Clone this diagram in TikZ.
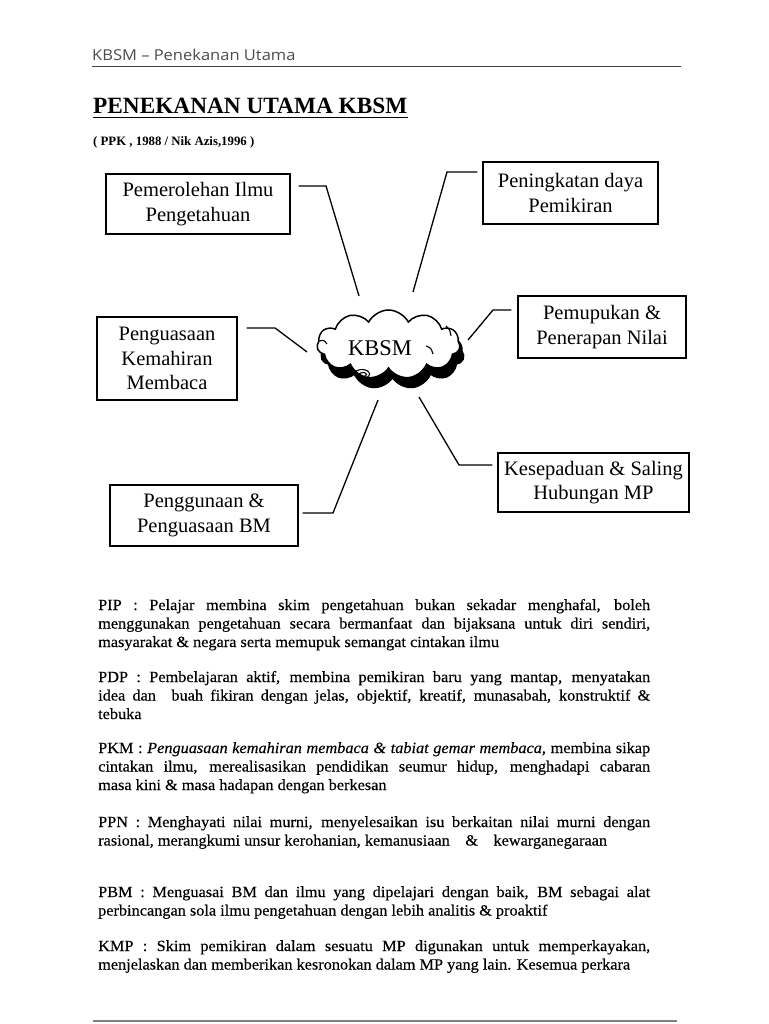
\documentclass[tikz,border=0pt]{standalone}
\usepackage{fontspec}
\setmainfont{Liberation Serif}
\newfontfamily\hdrfont[FakeStretch=1.1]{Open Sans}
\newfontfamily\parafont[FakeStretch=1.05,FakeBold=0.3]{Liberation Serif}
\usetikzlibrary{shapes.symbols,calc}
\begin{document}
\begin{tikzpicture}[x=1pt,y=-1pt,
  box/.style={draw,line width=1.4pt,inner sep=0pt,align=center,font=\fontsize{20.5}{24.5}\selectfont},
  conn/.style={line width=1.3pt},
  kcloud/.style={cloud,cloud puffs=11,cloud puff arc=125,aspect=2.15,minimum width=143pt,minimum height=69pt,inner sep=0pt},
  para/.style={anchor=base west,text width=552pt,align=justify,inner sep=0pt,font=\parafont\fontsize{15.5}{18.5}\selectfont}]
\useasboundingbox (0,0) rectangle (768,1024);
\fill[white] (0,0) rectangle (768,1024);
% header
\node[anchor=base west,inner sep=0pt,font=\hdrfont\fontsize{15}{17}\selectfont,text=black!70] (hdr) at (92,61) {KBSM – Penekanan Utama};
\draw[line width=1.5pt,black!75] (92,66.5) -- (681,66.5);
% title
\node[anchor=base west,inner sep=0pt,font=\bfseries\fontsize{23.3}{26}\selectfont] (title) at (93,114) {PENEKANAN UTAMA KBSM};
\draw[line width=1.3pt] ($(title.base west)+(0,3.5)$) -- ($(title.base east)+(0,3.5)$);
\node[anchor=base west,inner sep=0pt,font=\bfseries\fontsize{12.8}{14}\selectfont] (sub) at (93,146) {( PPK , 1988 / Nik Azis,1996 )};
% boxes
\node[box,minimum width=184pt,minimum height=60pt] (b1) at (198,204) {Pemerolehan Ilmu\\Pengetahuan};
\node[box,minimum width=175pt,minimum height=62pt] (b2) at (570.5,193) {Peningkatan daya\\Pemikiran};
\node[box,minimum width=140pt,minimum height=83pt] (b3) at (167,358.5) {Penguasaan\\Kemahiran\\Membaca};
\node[box,minimum width=168pt,minimum height=62pt] (b4) at (602,327) {Pemupukan \&\\Penerapan Nilai};
\node[box,minimum width=191pt,minimum height=59pt] (b5) at (593.5,482.5) {Kesepaduan \& Saling\\Hubungan MP};
\node[box,minimum width=188pt,minimum height=61pt] (b6) at (204,515.5) {Penggunaan \&\\Penguasaan BM};
% cloud
\node[kcloud,fill=black,draw,line width=1.2pt] (shadow) at (392.5,354.5) {};
\node[kcloud,fill=white,draw,line width=1.5pt] (kb) at (388.5,344.5) {};
\node[anchor=base,inner sep=0pt,font=\fontsize{22.5}{24}\selectfont] (kbt) at (380,355) {KBSM};
\draw[line width=1.1pt] (362,374) ellipse [x radius=7.5pt, y radius=4.5pt];
\draw[line width=1.1pt] (363,374.5) ellipse [x radius=3.5pt, y radius=2pt];
\draw[line width=1.1pt] (319,341) .. controls (324,340) .. (327,344);
\draw[line width=1.1pt] (426,346) .. controls (431,348) .. (433,354);
\draw[line width=1.1pt] (446,326) .. controls (450,330) .. (451,336);
% connectors
\coordinate (k1) at (326,186); \coordinate (e1) at (359,296);
\coordinate (k2) at (447,172); \coordinate (e2) at (413,292);
\coordinate (k3) at (275,328); \coordinate (e3) at (307,352);
\coordinate (k4) at (493,310); \coordinate (e4) at (468,340);
\coordinate (k5) at (459,465); \coordinate (e5) at (419,397);
\coordinate (k6) at (333,513); \coordinate (e6) at (378,400);
\draw[conn] ($(b1.east |- k1)+(8,0)$) -- (k1) -- (e1);
\draw[conn] ($(b2.west |- k2)+(-5,0)$) -- (k2) -- (e2);
\draw[conn] ($(b3.east |- k3)+(9,0)$) -- (k3) -- (e3);
\draw[conn] ($(b4.west |- k4)+(-6,0)$) -- (k4) -- (e4);
\draw[conn] ($(b5.west |- k5)+(-5,0)$) -- (k5) -- (e5);
\draw[conn] ($(b6.east |- k6)+(4,0)$) -- (k6) -- (e6);
% paragraphs
\node[para] (pip) at (98,610) {PIP : Pelajar membina skim pengetahuan bukan sekadar menghafal, boleh\linebreak menggunakan pengetahuan secara bermanfaat dan bijaksana untuk diri sendiri,\linebreak masyarakat \& negara serta memupuk semangat cintakan ilmu};
\node[para] (pdp) at (98,682) {PDP : Pembelajaran aktif, membina pemikiran baru yang mantap, menyatakan\linebreak idea dan\quad buah fikiran dengan jelas, objektif, kreatif, munasabah, konstruktif \&\linebreak tebuka};
\node[para] (pkm) at (98,753) {PKM : \textit{Penguasaan kemahiran membaca \& tabiat gemar membaca}, membina sikap\linebreak cintakan ilmu, merealisasikan pendidikan seumur hidup, menghadapi cabaran\linebreak masa kini \& masa hadapan dengan berkesan};
\node[para] (ppn) at (98,827) {\parfillskip=0pt PPN : Menghayati nilai murni, menyelesaikan isu berkaitan nilai murni dengan\linebreak rasional, merangkumi unsur kerohanian, kemanusiaan\quad\&\quad kewarganegaraan};
\node[para] (pbm) at (98,897) {PBM : Menguasai BM dan ilmu yang dipelajari dengan baik, BM sebagai alat\linebreak perbincangan sola ilmu pengetahuan dengan lebih analitis \& proaktif};
\node[para] (kmp) at (98,951) {\parfillskip=0pt KMP : Skim pemikiran dalam sesuatu MP digunakan untuk memperkayakan,\linebreak menjelaskan dan memberikan kesronokan dalam MP yang lain. Kesemua perkara};
\draw[line width=2pt,black!50] (93,1020.5) -- (677,1020.5);
\end{tikzpicture}
\end{document}
